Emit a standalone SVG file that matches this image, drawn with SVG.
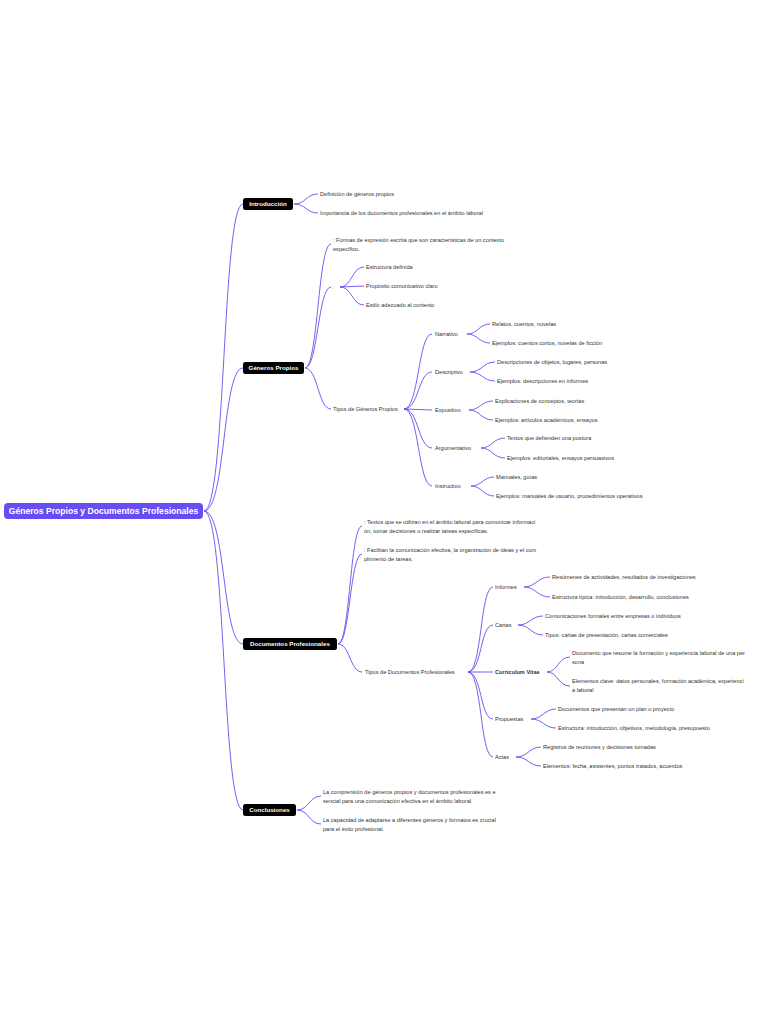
<svg xmlns="http://www.w3.org/2000/svg" width="768" height="1024" viewBox="0 0 768 1024">
<style>
.e{fill:none;stroke:#6a4cf2;stroke-width:0.9}
.t{font-family:"Liberation Sans",Arial,sans-serif;font-size:5.6px;fill:#333}
.m{font-family:"Liberation Sans",Arial,sans-serif;font-size:6.2px;font-weight:bold;fill:#fff}
.r{font-family:"Liberation Sans",Arial,sans-serif;font-size:8.6px;font-weight:bold;fill:#fff}
</style>
<rect width="768" height="1024" fill="#fff"/>
<g id="connectors">
<path class="e" d="M204 511C226 511 222 204 243 204M204 511C226 511 222 368 243 368M204 511C226 511 222 644 243 644M204 511C226 511 222 810 243 810"/>
<path class="e" d="M294 204C306 204 306 194 318 194M294 204C306 204 306 213 318 213"/>
<path class="e" d="M305 368C318 368 318 244 331 244M305 368C318 368 318 287 331 287M305 368C318 368 318 409 331 409"/>
<path class="e" d="M340 287C352 287 352 267 364 267M340 287L364 286M340 287C352 287 352 305 364 305"/>
<path class="e" d="M404 409C419 409 418 334 432 334M404 409C419 409 418 372 432 372M404 409L432 410M404 409C419 409 418 448 432 448M404 409C419 409 418 486 432 486"/>
<path class="e" d="M467 334C478 334 479 324 490 324M467 334C478 334 479 343 490 343"/>
<path class="e" d="M470 372C482 372 483 362 495 362M470 372C482 372 483 381 495 381"/>
<path class="e" d="M469 410C480 410 481 401 493 401M469 410C480 410 481 420 493 420"/>
<path class="e" d="M481 448C492 448 493 438 505 438M481 448C492 448 493 458 505 458"/>
<path class="e" d="M471 486C482 486 483 477 494 477M471 486C482 486 483 496 494 496"/>
<path class="e" d="M338 644C350 644 350 526 362 526M338 644C350 644 350 554 362 554M338 644C350 644 350 672 362 672"/>
<path class="e" d="M468 672C482 672 480 587 493 587M468 672C482 672 480 625 493 625M468 672L493 672M468 672C482 672 480 719 493 719M468 672C482 672 480 757 493 757"/>
<path class="e" d="M524 587C536 587 537 577 550 577M524 587C536 587 537 597 550 597"/>
<path class="e" d="M518 625C530 625 531 616 543 616M518 625C530 625 531 635 543 635"/>
<path class="e" d="M547 672C558 672 558 657 570 657M547 672C558 672 558 686 570 686"/>
<path class="e" d="M531 719C543 719 544 709 556 709M531 719C543 719 544 728 556 728"/>
<path class="e" d="M516 757C528 757 529 747 541 747M516 757C528 757 529 766 541 766"/>
<path class="e" d="M297 810C309 810 309 796 321 796M297 810C309 810 309 824 321 824"/>
</g>
<g id="root"><rect x="4" y="503" width="199" height="16" rx="4" fill="#6a4cf2"/><text class="r" x="103.5" y="514" text-anchor="middle">Géneros Propios y Documentos Profesionales</text></g>
<g id="intro"><rect x="243" y="198" width="50" height="12" rx="2.5" fill="#000"/><text class="m" x="268" y="206.3" text-anchor="middle">Introducción</text></g>
<g id="generos"><rect x="243" y="362" width="61" height="12" rx="2.5" fill="#000"/><text class="m" x="273.5" y="370.3" text-anchor="middle">Géneros Propios</text></g>
<g id="docs"><rect x="243" y="638" width="94" height="12" rx="2.5" fill="#000"/><text class="m" x="290" y="646.3" text-anchor="middle">Documentos Profesionales</text></g>
<g id="concl"><rect x="243" y="804" width="53" height="12" rx="2.5" fill="#000"/><text class="m" x="269.5" y="812.3" text-anchor="middle">Conclusiones</text></g>
<g id="texts">
<text class="t" x="320" y="196">Definición de géneros propios</text>
<text class="t" x="320" y="215">Importancia de los documentos profesionales en el ámbito laboral</text>
<text class="t" x="333" y="242">: Formas de expresión escrita que son características de un contexto</text>
<text class="t" x="333" y="251">específico.</text>
<text class="t" x="332" y="289">:</text>
<text class="t" x="366" y="269">Estructura definida</text>
<text class="t" x="366" y="288">Propósito comunicativo claro</text>
<text class="t" x="366" y="307">Estilo adecuado al contexto</text>
<text class="t" x="333" y="411">Tipos de Géneros Propios</text>
<text class="t" x="435" y="336">Narrativo</text>
<text class="t" x="435" y="374">Descriptivo</text>
<text class="t" x="435" y="412">Expositivo</text>
<text class="t" x="435" y="450">Argumentativo</text>
<text class="t" x="435" y="488">Instructivo</text>
<text class="t" x="492" y="326">Relatos, cuentos, novelas</text>
<text class="t" x="492" y="345">Ejemplos: cuentos cortos, novelas de ficción</text>
<text class="t" x="497" y="364">Descripciones de objetos, lugares, personas</text>
<text class="t" x="497" y="383">Ejemplos: descripciones en informes</text>
<text class="t" x="495" y="403">Explicaciones de conceptos, teorías</text>
<text class="t" x="495" y="422">Ejemplos: artículos académicos, ensayos</text>
<text class="t" x="507" y="440">Textos que defienden una postura</text>
<text class="t" x="507" y="460">Ejemplos: editoriales, ensayos persuasivos</text>
<text class="t" x="496" y="479">Manuales, guías</text>
<text class="t" x="496" y="498">Ejemplos: manuales de usuario, procedimientos operativos</text>
<text class="t" x="364" y="524">: Textos que se utilizan en el ámbito laboral para comunicar informaci</text>
<text class="t" x="364" y="533">ón, tomar decisiones o realizar tareas específicas.</text>
<text class="t" x="364" y="552">: Facilitan la comunicación efectiva, la organización de ideas y el cum</text>
<text class="t" x="364" y="561">plimiento de tareas.</text>
<text class="t" x="365" y="674">Tipos de Documentos Profesionales</text>
<text class="t" x="495" y="589">Informes</text>
<text class="t" x="495" y="627">Cartas</text>
<text class="t" x="495" y="674" font-weight="bold">Curriculum Vitae</text>
<text class="t" x="495" y="721">Propuestas</text>
<text class="t" x="495" y="759">Actas</text>
<text class="t" x="552" y="579">Resúmenes de actividades, resultados de investigaciones</text>
<text class="t" x="552" y="599">Estructura típica: introducción, desarrollo, conclusiones</text>
<text class="t" x="545" y="618">Comunicaciones formales entre empresas o individuos</text>
<text class="t" x="545" y="637">Tipos: cartas de presentación, cartas comerciales</text>
<text class="t" x="572" y="655">Documento que resume la formación y experiencia laboral de una per</text>
<text class="t" x="572" y="664">sona</text>
<text class="t" x="572" y="683">Elementos clave: datos personales, formación académica, experienci</text>
<text class="t" x="572" y="692">a laboral</text>
<text class="t" x="558" y="711">Documentos que presentan un plan o proyecto</text>
<text class="t" x="558" y="730">Estructura: introducción, objetivos, metodología, presupuesto</text>
<text class="t" x="543" y="749">Registros de reuniones y decisiones tomadas</text>
<text class="t" x="543" y="768">Elementos: fecha, asistentes, puntos tratados, acuerdos</text>
<text class="t" x="323" y="794">La comprensión de géneros propios y documentos profesionales es e</text>
<text class="t" x="323" y="803">sencial para una comunicación efectiva en el ámbito laboral.</text>
<text class="t" x="323" y="822">La capacidad de adaptarse a diferentes géneros y formatos es crucial</text>
<text class="t" x="323" y="831">para el éxito profesional.</text>
</g>
</svg>
